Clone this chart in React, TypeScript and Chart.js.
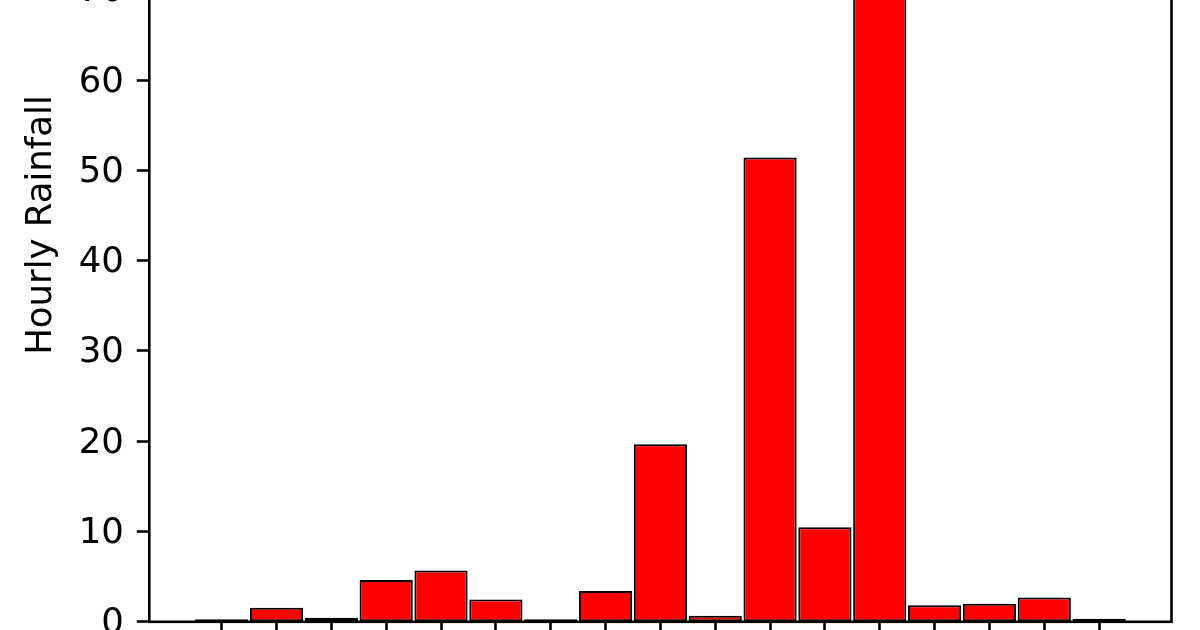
import { useEffect, useRef } from "react";
import { Chart, registerables } from "chart.js";

Chart.register(...registerables);

// ---- data ----
const barPositions = [0, 1, 2, 3, 4, 5, 6, 7, 8, 9, 10, 11, 12, 13, 14, 15, 16];
const rainfall = [0.28, 1.57, 0.46, 4.62, 5.69, 2.48, 0.27, 3.4, 19.66, 0.66, 51.44, 10.47, 83.7, 1.83, 2.0, 2.68, 0.35];
const yTickValues = [0, 10, 20, 30, 40, 50, 60, 70, 80];
const yAxisLabel = "Hourly Rainfall";

// ---- axis limits ----
const X_MIN = -1.32;
const X_MAX = 17.32;
const Y_MIN = 0;
const Y_MAX = 87.9;

// ---- layout ----
const CANVAS_W = 1200;
const CANVAS_H = 900;
const OFFSET_TOP = 206.3;
const FONT = "'DejaVu Sans', 'Liberation Sans', sans-serif";
const FONT_SIZE = 35.5;
const LINE_W = 2.6;
const TICK_LEN = 12.5;
const TICK_PAD = 13;
const LABEL_SHIFT = 2.3;

// draws the frame (all four spines) above the bars, and the y tick labels
// with matplotlib-like vertical centring
const spinePlugin = {
  id: "spines",
  afterDatasetsDraw(chart: any) {
    const { ctx, chartArea } = chart;
    ctx.save();
    ctx.strokeStyle = "#000";
    ctx.lineWidth = LINE_W;
    ctx.strokeRect(chartArea.left, chartArea.top, chartArea.right - chartArea.left, chartArea.bottom - chartArea.top);
    ctx.restore();
  },
  afterDraw(chart: any) {
    const { ctx, chartArea } = chart;
    const y = chart.scales.y;
    ctx.save();
    ctx.fillStyle = "#000";
    ctx.font = `${FONT_SIZE}px ${FONT}`;
    ctx.textAlign = "right";
    ctx.textBaseline = "middle";
    y.ticks.forEach((t: any, i: number) => {
      ctx.fillText(String(t.label), chartArea.left - TICK_LEN - TICK_PAD, y.getPixelForTick(i) + LABEL_SHIFT);
    });
    ctx.restore();
  },
};

export default function App() {
  const ref = useRef<HTMLCanvasElement | null>(null);

  useEffect(() => {
    if (!ref.current) return;
    const chart = new Chart(ref.current, {
      type: "bar",
      data: {
        datasets: [
          {
            data: barPositions.map((x, i) => ({ x, y: rainfall[i] })),
            backgroundColor: "#ff0000",
            borderColor: "#000000",
            borderWidth: 2,
            borderSkipped: false,
            barPercentage: 0.97,
            categoryPercentage: 1,
          } as any,
        ],
      },
      plugins: [spinePlugin],
      options: {
        animation: false,
        responsive: false,
        devicePixelRatio: 1,
        layout: { padding: { top: 0, left: 0, right: 28.5, bottom: 0 } },
        plugins: { legend: { display: false }, tooltip: { enabled: false } },
        scales: {
          x: {
            type: "linear",
            offset: false,
            min: X_MIN,
            max: X_MAX,
            afterBuildTicks: (s: any) => {
              s.ticks = barPositions.map((v) => ({ value: v }));
            },
            afterFit: (s: any) => {
              s.height = CANVAS_H - (OFFSET_TOP + 621.5);
            },
            ticks: { display: false },
            grid: {
              offset: false,
              drawOnChartArea: false,
              drawTicks: true,
              tickLength: TICK_LEN,
              tickWidth: LINE_W,
              tickColor: "#000",
              color: "#000",
            },
            border: { display: false },
          },
          y: {
            type: "linear",
            min: Y_MIN,
            max: Y_MAX,
            afterBuildTicks: (s: any) => {
              s.ticks = yTickValues.map((v) => ({ value: v }));
            },
            afterFit: (s: any) => {
              s.width = 149.3;
            },
            ticks: {
              color: "rgba(0,0,0,0)",
              padding: TICK_PAD,
              font: { family: FONT, size: FONT_SIZE },
            },
            grid: {
              drawOnChartArea: false,
              drawTicks: true,
              tickLength: TICK_LEN,
              tickWidth: LINE_W,
              tickColor: "#000",
              color: "#000",
            },
            border: { display: false },
            title: {
              display: true,
              text: yAxisLabel,
              color: "#000",
              font: { family: FONT, size: FONT_SIZE, lineHeight: 1 },
              padding: { top: 24, bottom: 0 },
            },
          },
        },
      } as any,
    });
    return () => chart.destroy();
  }, []);

  return (
    <canvas
      ref={ref}
      width={CANVAS_W}
      height={CANVAS_H}
      style={{ position: "fixed", left: 0, top: -OFFSET_TOP, width: CANVAS_W, height: CANVAS_H, background: "#fff" }}
    />
  );
}
